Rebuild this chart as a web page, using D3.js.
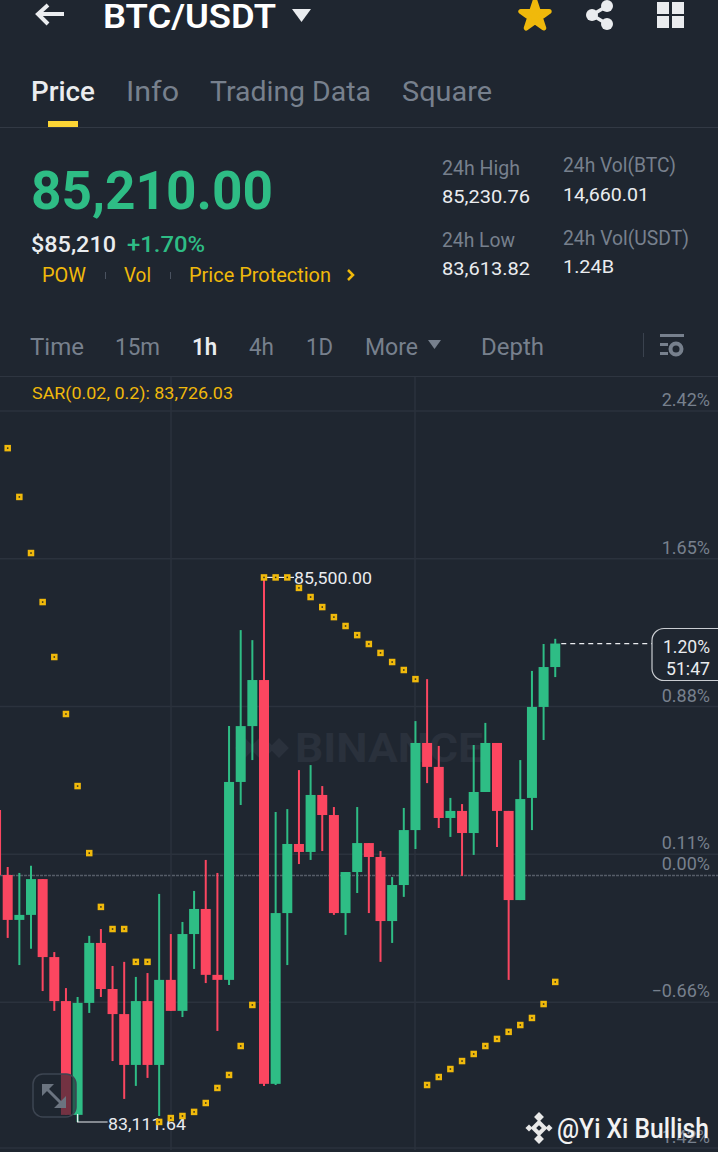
<!DOCTYPE html>
<html>
<head>
<meta charset="utf-8">
<script src="https://cdn.jsdelivr.net/npm/d3@7"></script>
<style>
  html, body { margin: 0; padding: 0; background: #1f2630; overflow: hidden; }
  svg { display: block; font-family: Roboto, sans-serif; }
</style>
</head>
<body>
<svg id="chart" width="718" height="1152"></svg>
<script>
// 1h candles, left to right. First one is cut off by the screen edge.
const opens = [84480, 84195, 83998, 84020, 84177, 83835, 83642, 83143, 83634, 83897, 83695, 83585, 83362, 83642, 83362, 83735, 83599, 83936, 84046, 83757, 83735, 84603, 84848, 85050, 83279, 84028, 84331, 84296, 84546, 84458, 84028, 84208, 84335, 84274, 83993, 84151, 84392, 84774, 84669, 84445, 84476, 84379, 84559, 84774, 84476, 84085, 84533, 84932, 85107];
const highs = [84480, 84230, 84204, 84235, 84177, 83857, 83699, 83660, 83928, 83958, 83796, 83814, 83748, 83765, 84112, 83936, 83989, 84125, 84261, 84204, 84848, 85269, 85225, 85500, 84471, 84484, 84655, 84677, 84585, 84493, 84208, 84493, 84335, 84300, 84186, 84489, 84870, 85054, 84761, 84533, 84506, 84765, 84862, 84774, 84476, 84699, 85090, 85208, 85230.76];
const lows = [84195, 83919, 83800, 83871, 83686, 83599, 83143, 83111.64, 83590, 83660, 83379, 83213, 83270, 83305, 83138, 83599, 83572, 83783, 83721, 83511, 83713, 84502, 84699, 83270, 83274, 83800, 84243, 84261, 84300, 84020, 83932, 84116, 84028, 83814, 83897, 84099, 84309, 84598, 84401, 84362, 84191, 84283, 84559, 84318, 83735, 84085, 84392, 84787, 85063];
const closes = [84195, 83998, 84020, 84177, 83835, 83642, 83143, 83634, 83897, 83695, 83585, 83362, 83642, 83362, 83735, 83599, 83936, 84046, 83757, 83735, 84603, 84848, 85050, 83279, 84028, 84331, 84296, 84546, 84458, 84028, 84208, 84335, 84274, 83993, 84151, 84392, 84774, 84669, 84445, 84476, 84379, 84559, 84774, 84476, 84085, 84528, 84932, 85107, 85210];

// parabolic SAR, one per candle (first one is off screen)
const sar = [null, 86067, 85853, 85607, 85392, 85151, 84901, 84585, 84291, 84055, 83958, 83958, 83814, 83814, 83112, 83129, 83138, 83156, 83195, 83261, 83318, 83445, 83625, 85500, 85500, 85500, 85454, 85414, 85370, 85326, 85287, 85247, 85208, 85169, 85129, 85094, 85054, 83274, 83309, 83344, 83379, 83410, 83445, 83476, 83507, 83537, 83568, 83629, 83726.03];

const pctTicks = [2.42, 1.65, 0.88, 0.11, 0, -0.66, -1.42];
const refPrice = 84195;
const lastPrice = 85210;
const highLabel = 85500;
const lowLabel = 83111.64;

const bg = "#1f2630";
const green = "#2ebd85";
const red = "#fb4660";
const yellow = "#f0b90b";
const grey = "#77808d";
const white = "#eaecef";
const gridColor = "#2b323d";

const svg = d3.select("#chart");
svg.append("rect").attr("width", 718).attr("height", 1152).attr("fill", bg);

const label = (text, x, y, size, fill, width, weight = 400, anchor = "start") => {
  const t = svg.append("text")
    .attr("x", x).attr("y", y)
    .attr("font-size", size).attr("fill", fill)
    .attr("font-weight", weight)
    .attr("text-anchor", anchor)
    .text(text);
  if (width) t.attr("textLength", width).attr("lengthAdjust", "spacingAndGlyphs");
  return t;
};

// header
svg.append("path").attr("d", "M64,14H39M48,5L38,14L48,24")
  .attr("fill", "none").attr("stroke", white).attr("stroke-width", 4);
label("BTC/USDT", 103, 28, 33, "#ffffff", 173, 600);
svg.append("path").attr("d", "M292,9H311L301.5,22Z").attr("fill", white);
svg.append("path")
  .attr("d", d3.symbol(d3.symbolStar).size(250))
  .attr("transform", "translate(535,16)")
  .attr("fill", yellow).attr("stroke", yellow).attr("stroke-linejoin", "round").attr("stroke-width", 5);
svg.append("path").attr("d", "M607,6L592,15L607,24")
  .attr("fill", "none").attr("stroke", white).attr("stroke-width", 3.5);
[[607, 6], [592, 15], [607, 24]].forEach(([cx, cy]) =>
  svg.append("circle").attr("cx", cx).attr("cy", cy).attr("r", 6).attr("fill", white));
[[657, 2], [672, 2], [657, 16], [672, 16]].forEach(([x, y]) =>
  svg.append("rect").attr("x", x).attr("y", y).attr("width", 12).attr("height", 12).attr("fill", white));

// tabs
label("Price", 31, 101, 27, white, 64, 500);
label("Info", 126, 101, 27, grey, 53);
label("Trading Data", 210, 101, 27, grey, 161);
label("Square", 402, 101, 27, grey, 90);
svg.append("rect").attr("x", 48).attr("y", 121).attr("width", 30).attr("height", 6).attr("fill", "#fcd535");
svg.append("rect").attr("x", 0).attr("y", 127).attr("width", 718).attr("height", 1).attr("fill", "#323944");

// price block
label("85,210.00", 31, 209, 54, green, 242, 700);
label("$85,210", 31, 252, 22, white, 85, 500);
label("+1.70%", 127, 252, 22, green, 78, 500);
label("POW", 42, 282, 20, yellow, 44);
label("Vol", 124, 282, 20, yellow, 27);
label("Price Protection", 189, 282, 20, yellow, 142);
[105, 170].forEach((x) =>
  svg.append("rect").attr("x", x).attr("y", 272).attr("width", 1).attr("height", 7).attr("fill", "#4a5260"));
svg.append("path").attr("d", "M348,270L353,275L348,280")
  .attr("fill", "none").attr("stroke", yellow).attr("stroke-width", 2.5);

label("24h High", 442, 175, 20, grey, 78);
label("85,230.76", 442, 203, 19, white, 88);
label("24h Low", 442, 247, 20, grey, 73);
label("83,613.82", 442, 275, 19, white, 88);
label("24h Vol(BTC)", 563, 172, 20, grey, 113);
label("14,660.01", 563, 201, 19, white, 86);
label("24h Vol(USDT)", 563, 245, 20, grey, 126);
label("1.24B", 563, 273, 19, white, 51);

// interval row
label("Time", 30, 355, 24, grey, 54);
label("15m", 115, 355, 24, grey, 45);
label("1h", 192, 355, 24, white, 25, 600);
label("4h", 249, 355, 24, grey, 25);
label("1D", 306, 355, 24, grey, 27);
label("More", 365, 355, 24, grey, 53);
svg.append("path").attr("d", "M428,340H441L434.5,349Z").attr("fill", grey);
label("Depth", 481, 355, 24, grey, 63);
svg.append("rect").attr("x", 643).attr("y", 333).attr("width", 1).attr("height", 24).attr("fill", "#3a424e");
svg.append("rect").attr("x", 660).attr("y", 334).attr("width", 24).attr("height", 3).attr("fill", grey);
svg.append("rect").attr("x", 660).attr("y", 343).attr("width", 8).attr("height", 3).attr("fill", grey);
svg.append("rect").attr("x", 660).attr("y", 352).attr("width", 8).attr("height", 3).attr("fill", grey);
svg.append("circle").attr("cx", 676).attr("cy", 349).attr("r", 5.5)
  .attr("fill", "none").attr("stroke", grey).attr("stroke-width", 4);
svg.append("rect").attr("x", 0).attr("y", 376).attr("width", 718).attr("height", 1).attr("fill", "#2e3540");

// scales
const yPct = d3.scaleLinear().domain([-1.42, 2.42]).range([1147.6, 410.4]);
const y = (p) => yPct((p / refPrice - 1) * 100);
const x = d3.scaleLinear().domain([0, 48]).range([-3.95, 555.25]);

// grid
const grid = svg.append("g")
  .call(d3.axisRight(yPct).tickValues(pctTicks).tickSize(718).tickFormat(""));
grid.select(".domain").remove();
grid.selectAll("line")
  .attr("stroke", (d) => (d === 0 ? "#555c67" : gridColor))
  .attr("stroke-width", 1.5)
  .attr("stroke-dasharray", (d) => (d === 0 ? "3,1" : null));
[171, 415].forEach((vx) =>
  svg.append("line").attr("x1", vx).attr("x2", vx).attr("y1", 377).attr("y2", 1150)
    .attr("stroke", gridColor).attr("stroke-width", 1.5));

// watermark
const mark = svg.append("g").attr("fill", "#2a313c");
[[262, 748, 9], [279, 748, 7], [245, 748, 7]].forEach(([cx, cy, r]) =>
  mark.append("rect").attr("x", cx - r).attr("y", cy - r).attr("width", r * 2).attr("height", r * 2)
    .attr("transform", `rotate(45,${cx},${cy})`));
mark.append("text").attr("x", 295).attr("y", 762).attr("font-size", 40).attr("font-weight", 700)
  .attr("textLength", 188).attr("lengthAdjust", "spacingAndGlyphs").text("BINANCE");

svg.append("text").attr("x", 32).attr("y", 399).attr("font-size", 17).attr("fill", yellow)
  .attr("textLength", 201).attr("lengthAdjust", "spacingAndGlyphs")
  .text("SAR(0.02, 0.2): 83,726.03");

// axis labels
const axis = svg.append("g").attr("transform", "translate(710,0)")
  .call(d3.axisLeft(yPct).tickValues(pctTicks).tickSize(0).tickPadding(0)
    .tickFormat((d) => d3.format(".2f")(d) + "%"));
axis.select(".domain").remove();
axis.selectAll("text")
  .attr("dy", null).attr("y", -5)
  .attr("font-family", "Roboto, sans-serif").attr("font-size", 18).attr("fill", grey);

// candles
const candles = d3.range(opens.length).map((i) => ({
  i, open: opens[i], high: highs[i], low: lows[i], close: closes[i],
}));
const isUp = (d) => d.close >= d.open;
const candle = svg.append("g").selectAll("g").data(candles).join("g");
candle.append("line")
  .attr("x1", (d) => x(d.i)).attr("x2", (d) => x(d.i))
  .attr("y1", (d) => y(d.high)).attr("y2", (d) => y(d.low))
  .attr("stroke", (d) => (isUp(d) ? green : red)).attr("stroke-width", 2);
candle.append("rect")
  .attr("x", (d) => x(d.i) - 5).attr("width", 10)
  .attr("y", (d) => y(Math.max(d.open, d.close)))
  .attr("height", (d) => Math.max(1, Math.abs(y(d.open) - y(d.close))))
  .attr("fill", (d) => (isUp(d) ? green : red));

// high / low callouts sit under the SAR dots
const highX = x(highs.indexOf(highLabel));
const lowX = x(lows.indexOf(lowLabel));
svg.append("path").attr("d", `M${highX},${y(highLabel)}H${highX + 30}`)
  .attr("stroke", white).attr("stroke-width", 1.2).attr("fill", "none");
label("85,500.00", 294, y(highLabel) + 7, 17, white, 78);
svg.append("path").attr("d", `M${lowX},${y(lowLabel) - 8}V${y(lowLabel)}H${lowX + 30}`)
  .attr("stroke", white).attr("stroke-width", 1.2).attr("fill", "none");
label("83,111.64", 108, y(lowLabel) + 8, 17, white, 78);

// SAR dots
svg.append("g").selectAll("rect")
  .data(sar.map((v, i) => ({ v, i })).filter((d) => d.v !== null))
  .join("rect")
  .attr("x", (d) => x(d.i) - 2).attr("y", (d) => y(d.v) - 2)
  .attr("width", 4).attr("height", 4)
  .attr("fill", "#2a2a20").attr("stroke", yellow).attr("stroke-width", 2.5);

// last price tag
const lastY = y(lastPrice);
svg.append("line").attr("x1", x(48) + 6).attr("x2", 652).attr("y1", lastY).attr("y2", lastY)
  .attr("stroke", white).attr("stroke-width", 1.2).attr("stroke-dasharray", "5,4");
svg.append("rect").attr("x", 652).attr("y", 628.5).attr("width", 80).attr("height", 52).attr("rx", 12)
  .attr("fill", bg).attr("stroke", "#c9ccd1").attr("stroke-width", 1.2);
label("1.20%", 710, 653, 18, white, 47, 400, "end");
label("51:47", 710, 675, 18, white, 44, 400, "end");

// expand button
svg.append("rect").attr("x", 33).attr("y", 1074).attr("width", 43).attr("height", 43).attr("rx", 10)
  .attr("fill", "rgba(31,38,48,0.62)").attr("stroke", "#3d4551").attr("stroke-width", 1.5);
svg.append("path").attr("d", "M42,1084H54L42,1096ZM66,1108H54L66,1096Z").attr("fill", "#6b7480");
svg.append("path").attr("d", "M46,1088L62,1104").attr("stroke", "#6b7480").attr("stroke-width", 3);

// repost watermark, bottom right
const logo = svg.append("g").attr("fill", "#e8e8e8");
[[539, 1128, 6], [529, 1128, 2.5], [549, 1128, 2.5], [539, 1117, 3.5], [539, 1139, 3.5]].forEach(([cx, cy, r]) =>
  logo.append("rect").attr("x", cx - r).attr("y", cy - r).attr("width", r * 2).attr("height", r * 2)
    .attr("transform", `rotate(45,${cx},${cy})`));
svg.append("rect").attr("x", 537).attr("y", 1126).attr("width", 4).attr("height", 4)
  .attr("transform", "rotate(45,539,1128)").attr("fill", bg);
label("@Yi Xi Bullish", 557, 1138, 27, "#f2f2f2", 152, 500);
</script>
</body>
</html>
